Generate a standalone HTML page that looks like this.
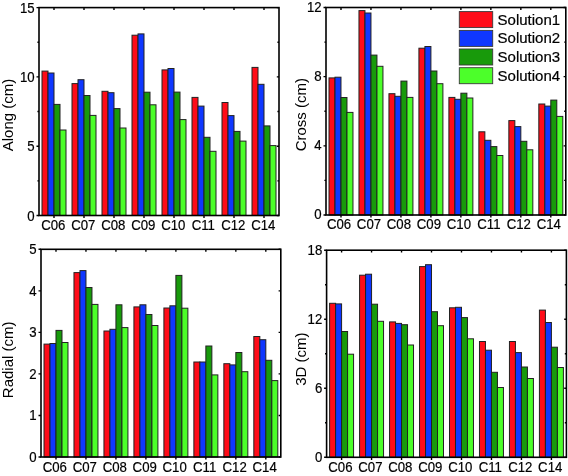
<!DOCTYPE html><html><head><meta charset="utf-8"><style>html,body{margin:0;padding:0;background:#fff;}svg{display:block;}text{font-family:"Liberation Sans",Arial,Helvetica,sans-serif;fill:#000;stroke:#000;stroke-width:0.2px;}</style></head><body>
<svg width="568" height="476" viewBox="0 0 568 476">
<rect x="0" y="0" width="568" height="476" fill="#fff"/>
<rect x="42" y="71.1" width="6" height="144.4" fill="#ff0c18" stroke="#222" stroke-width="1"/>
<rect x="48" y="73" width="6" height="142.5" fill="#0f37ff" stroke="#222" stroke-width="1"/>
<rect x="54" y="104.4" width="6" height="111.1" fill="#189a0b" stroke="#222" stroke-width="1"/>
<rect x="60" y="130" width="6" height="85.5" fill="#4cff2a" stroke="#222" stroke-width="1"/>
<rect x="72" y="83.6" width="6" height="131.9" fill="#ff0c18" stroke="#222" stroke-width="1"/>
<rect x="78" y="79.7" width="6" height="135.8" fill="#0f37ff" stroke="#222" stroke-width="1"/>
<rect x="84" y="95.5" width="6" height="120" fill="#189a0b" stroke="#222" stroke-width="1"/>
<rect x="90" y="115.4" width="6" height="100.1" fill="#4cff2a" stroke="#222" stroke-width="1"/>
<rect x="102" y="91.3" width="6" height="124.2" fill="#ff0c18" stroke="#222" stroke-width="1"/>
<rect x="108" y="92.7" width="6" height="122.8" fill="#0f37ff" stroke="#222" stroke-width="1"/>
<rect x="114" y="108.6" width="6" height="106.9" fill="#189a0b" stroke="#222" stroke-width="1"/>
<rect x="120" y="128" width="6" height="87.5" fill="#4cff2a" stroke="#222" stroke-width="1"/>
<rect x="132" y="35.2" width="6" height="180.3" fill="#ff0c18" stroke="#222" stroke-width="1"/>
<rect x="138" y="33.9" width="6" height="181.6" fill="#0f37ff" stroke="#222" stroke-width="1"/>
<rect x="144" y="92.2" width="6" height="123.3" fill="#189a0b" stroke="#222" stroke-width="1"/>
<rect x="150" y="104.8" width="6" height="110.7" fill="#4cff2a" stroke="#222" stroke-width="1"/>
<rect x="162" y="69.9" width="6" height="145.6" fill="#ff0c18" stroke="#222" stroke-width="1"/>
<rect x="168" y="68.5" width="6" height="147" fill="#0f37ff" stroke="#222" stroke-width="1"/>
<rect x="174" y="92.1" width="6" height="123.4" fill="#189a0b" stroke="#222" stroke-width="1"/>
<rect x="180" y="119.6" width="6" height="95.9" fill="#4cff2a" stroke="#222" stroke-width="1"/>
<rect x="192" y="97.4" width="6" height="118.1" fill="#ff0c18" stroke="#222" stroke-width="1"/>
<rect x="198" y="106.1" width="6" height="109.4" fill="#0f37ff" stroke="#222" stroke-width="1"/>
<rect x="204" y="137.3" width="6" height="78.2" fill="#189a0b" stroke="#222" stroke-width="1"/>
<rect x="210" y="151.3" width="6" height="64.2" fill="#4cff2a" stroke="#222" stroke-width="1"/>
<rect x="222" y="102.5" width="6" height="113" fill="#ff0c18" stroke="#222" stroke-width="1"/>
<rect x="228" y="115.6" width="6" height="99.9" fill="#0f37ff" stroke="#222" stroke-width="1"/>
<rect x="234" y="131.4" width="6" height="84.1" fill="#189a0b" stroke="#222" stroke-width="1"/>
<rect x="240" y="141.1" width="6" height="74.4" fill="#4cff2a" stroke="#222" stroke-width="1"/>
<rect x="252" y="67.4" width="6" height="148.1" fill="#ff0c18" stroke="#222" stroke-width="1"/>
<rect x="258" y="84.3" width="6" height="131.2" fill="#0f37ff" stroke="#222" stroke-width="1"/>
<rect x="264" y="125.9" width="6" height="89.6" fill="#189a0b" stroke="#222" stroke-width="1"/>
<rect x="270" y="145.6" width="6" height="69.9" fill="#4cff2a" stroke="#222" stroke-width="1"/>
<rect x="39" y="7.6" width="240" height="207.9" fill="none" stroke="#000" stroke-width="1.6"/>
<path d="M39 215.5h-2.5M279 215.5h-2.2M39 146.2h-2.5M279 146.2h-2.2M39 76.9h-2.5M279 76.9h-2.2M39 7.6h-2.5M279 7.6h-2.2M39 180.85h-1.6M279 180.85h-1.6M39 111.55h-1.6M279 111.55h-1.6M39 42.25h-1.6M279 42.25h-1.6M54 215.5v2.6M54 7.6v2.4M84 215.5v2.6M84 7.6v2.4M114 215.5v2.6M114 7.6v2.4M144 215.5v2.6M144 7.6v2.4M174 215.5v2.6M174 7.6v2.4M204 215.5v2.6M204 7.6v2.4M234 215.5v2.6M234 7.6v2.4M264 215.5v2.6M264 7.6v2.4" stroke="#000" stroke-width="1.4" fill="none"/>
<text transform="translate(34.7 220.5) scale(0.93 1)" font-size="14.2" text-anchor="end">0</text>
<text transform="translate(34.7 151.2) scale(0.93 1)" font-size="14.2" text-anchor="end">5</text>
<text transform="translate(34.7 81.9) scale(0.93 1)" font-size="14.2" text-anchor="end">10</text>
<text transform="translate(34.7 12.6) scale(0.93 1)" font-size="14.2" text-anchor="end">15</text>
<text transform="translate(53.3 229.9) scale(0.93 1)" font-size="14.2" text-anchor="middle">C06</text>
<text transform="translate(83.3 229.9) scale(0.93 1)" font-size="14.2" text-anchor="middle">C07</text>
<text transform="translate(113.3 229.9) scale(0.93 1)" font-size="14.2" text-anchor="middle">C08</text>
<text transform="translate(143.3 229.9) scale(0.93 1)" font-size="14.2" text-anchor="middle">C09</text>
<text transform="translate(173.3 229.9) scale(0.93 1)" font-size="14.2" text-anchor="middle">C10</text>
<text transform="translate(203.3 229.9) scale(0.93 1)" font-size="14.2" text-anchor="middle">C11</text>
<text transform="translate(233.3 229.9) scale(0.93 1)" font-size="14.2" text-anchor="middle">C12</text>
<text transform="translate(263.3 229.9) scale(0.93 1)" font-size="14.2" text-anchor="middle">C14</text>
<text transform="translate(12.8 115) rotate(-90)" font-size="15" text-anchor="middle" style="stroke-width:0">Along (cm)</text>
<rect x="329" y="77.9" width="5.99" height="137.1" fill="#ff0c18" stroke="#222" stroke-width="1"/>
<rect x="334.99" y="77.2" width="5.99" height="137.8" fill="#0f37ff" stroke="#222" stroke-width="1"/>
<rect x="340.99" y="97.5" width="5.99" height="117.5" fill="#189a0b" stroke="#222" stroke-width="1"/>
<rect x="346.98" y="112.4" width="5.99" height="102.6" fill="#4cff2a" stroke="#222" stroke-width="1"/>
<rect x="358.97" y="10.6" width="5.99" height="204.4" fill="#ff0c18" stroke="#222" stroke-width="1"/>
<rect x="364.97" y="13" width="5.99" height="202" fill="#0f37ff" stroke="#222" stroke-width="1"/>
<rect x="370.96" y="55.1" width="5.99" height="159.9" fill="#189a0b" stroke="#222" stroke-width="1"/>
<rect x="376.96" y="66.3" width="5.99" height="148.7" fill="#4cff2a" stroke="#222" stroke-width="1"/>
<rect x="388.95" y="93.7" width="5.99" height="121.3" fill="#ff0c18" stroke="#222" stroke-width="1"/>
<rect x="394.94" y="96.3" width="5.99" height="118.7" fill="#0f37ff" stroke="#222" stroke-width="1"/>
<rect x="400.94" y="81.1" width="5.99" height="133.9" fill="#189a0b" stroke="#222" stroke-width="1"/>
<rect x="406.93" y="97.4" width="5.99" height="117.6" fill="#4cff2a" stroke="#222" stroke-width="1"/>
<rect x="418.92" y="48.2" width="5.99" height="166.8" fill="#ff0c18" stroke="#222" stroke-width="1"/>
<rect x="424.92" y="46.5" width="5.99" height="168.5" fill="#0f37ff" stroke="#222" stroke-width="1"/>
<rect x="430.91" y="71" width="5.99" height="144" fill="#189a0b" stroke="#222" stroke-width="1"/>
<rect x="436.91" y="83.7" width="5.99" height="131.3" fill="#4cff2a" stroke="#222" stroke-width="1"/>
<rect x="448.9" y="97.4" width="5.99" height="117.6" fill="#ff0c18" stroke="#222" stroke-width="1"/>
<rect x="454.89" y="99.3" width="5.99" height="115.7" fill="#0f37ff" stroke="#222" stroke-width="1"/>
<rect x="460.89" y="93.2" width="5.99" height="121.8" fill="#189a0b" stroke="#222" stroke-width="1"/>
<rect x="466.88" y="98" width="5.99" height="117" fill="#4cff2a" stroke="#222" stroke-width="1"/>
<rect x="478.87" y="131.8" width="5.99" height="83.2" fill="#ff0c18" stroke="#222" stroke-width="1"/>
<rect x="484.87" y="140.3" width="5.99" height="74.7" fill="#0f37ff" stroke="#222" stroke-width="1"/>
<rect x="490.86" y="146.6" width="5.99" height="68.4" fill="#189a0b" stroke="#222" stroke-width="1"/>
<rect x="496.86" y="155.5" width="5.99" height="59.5" fill="#4cff2a" stroke="#222" stroke-width="1"/>
<rect x="508.85" y="120.6" width="5.99" height="94.4" fill="#ff0c18" stroke="#222" stroke-width="1"/>
<rect x="514.84" y="126.6" width="5.99" height="88.4" fill="#0f37ff" stroke="#222" stroke-width="1"/>
<rect x="520.84" y="141.3" width="5.99" height="73.7" fill="#189a0b" stroke="#222" stroke-width="1"/>
<rect x="526.83" y="149.8" width="5.99" height="65.2" fill="#4cff2a" stroke="#222" stroke-width="1"/>
<rect x="538.82" y="104" width="5.99" height="111" fill="#ff0c18" stroke="#222" stroke-width="1"/>
<rect x="544.82" y="106.1" width="5.99" height="108.9" fill="#0f37ff" stroke="#222" stroke-width="1"/>
<rect x="550.81" y="100.1" width="5.99" height="114.9" fill="#189a0b" stroke="#222" stroke-width="1"/>
<rect x="556.81" y="116.4" width="5.99" height="98.6" fill="#4cff2a" stroke="#222" stroke-width="1"/>
<rect x="326" y="7.5" width="239.8" height="207.5" fill="none" stroke="#000" stroke-width="1.6"/>
<path d="M326 215h-2.5M565.8 215h-2.2M326 145.83h-2.5M565.8 145.83h-2.2M326 76.67h-2.5M565.8 76.67h-2.2M326 7.5h-2.5M565.8 7.5h-2.2M326 180.42h-1.6M565.8 180.42h-1.6M326 111.25h-1.6M565.8 111.25h-1.6M326 42.08h-1.6M565.8 42.08h-1.6M340.99 215v2.6M340.99 7.5v2.4M370.96 215v2.6M370.96 7.5v2.4M400.94 215v2.6M400.94 7.5v2.4M430.91 215v2.6M430.91 7.5v2.4M460.89 215v2.6M460.89 7.5v2.4M490.86 215v2.6M490.86 7.5v2.4M520.84 215v2.6M520.84 7.5v2.4M550.81 215v2.6M550.81 7.5v2.4" stroke="#000" stroke-width="1.4" fill="none"/>
<text transform="translate(321.7 219.2) scale(0.93 1)" font-size="14.2" text-anchor="end">0</text>
<text transform="translate(321.7 150.03) scale(0.93 1)" font-size="14.2" text-anchor="end">4</text>
<text transform="translate(321.7 80.87) scale(0.93 1)" font-size="14.2" text-anchor="end">8</text>
<text transform="translate(321.7 11.7) scale(0.93 1)" font-size="14.2" text-anchor="end">12</text>
<text transform="translate(338.99 229.4) scale(0.93 1)" font-size="14.2" text-anchor="middle">C06</text>
<text transform="translate(368.96 229.4) scale(0.93 1)" font-size="14.2" text-anchor="middle">C07</text>
<text transform="translate(398.94 229.4) scale(0.93 1)" font-size="14.2" text-anchor="middle">C08</text>
<text transform="translate(428.91 229.4) scale(0.93 1)" font-size="14.2" text-anchor="middle">C09</text>
<text transform="translate(458.89 229.4) scale(0.93 1)" font-size="14.2" text-anchor="middle">C10</text>
<text transform="translate(488.86 229.4) scale(0.93 1)" font-size="14.2" text-anchor="middle">C11</text>
<text transform="translate(518.84 229.4) scale(0.93 1)" font-size="14.2" text-anchor="middle">C12</text>
<text transform="translate(548.81 229.4) scale(0.93 1)" font-size="14.2" text-anchor="middle">C14</text>
<text transform="translate(305.9 114.7) rotate(-90)" font-size="15" text-anchor="middle" style="stroke-width:0">Cross (cm)</text>
<rect x="44" y="344.1" width="6" height="112.9" fill="#ff0c18" stroke="#222" stroke-width="1"/>
<rect x="49.99" y="343.5" width="6" height="113.5" fill="#0f37ff" stroke="#222" stroke-width="1"/>
<rect x="55.99" y="330.4" width="6" height="126.6" fill="#189a0b" stroke="#222" stroke-width="1"/>
<rect x="61.98" y="342.5" width="6" height="114.5" fill="#4cff2a" stroke="#222" stroke-width="1"/>
<rect x="73.97" y="272.6" width="6" height="184.4" fill="#ff0c18" stroke="#222" stroke-width="1"/>
<rect x="79.97" y="270.6" width="6" height="186.4" fill="#0f37ff" stroke="#222" stroke-width="1"/>
<rect x="85.96" y="287.5" width="6" height="169.5" fill="#189a0b" stroke="#222" stroke-width="1"/>
<rect x="91.96" y="304.4" width="6" height="152.6" fill="#4cff2a" stroke="#222" stroke-width="1"/>
<rect x="103.95" y="331" width="6" height="126" fill="#ff0c18" stroke="#222" stroke-width="1"/>
<rect x="109.94" y="329.3" width="6" height="127.7" fill="#0f37ff" stroke="#222" stroke-width="1"/>
<rect x="115.94" y="304.8" width="6" height="152.2" fill="#189a0b" stroke="#222" stroke-width="1"/>
<rect x="121.93" y="327.6" width="6" height="129.4" fill="#4cff2a" stroke="#222" stroke-width="1"/>
<rect x="133.92" y="306.9" width="6" height="150.1" fill="#ff0c18" stroke="#222" stroke-width="1"/>
<rect x="139.92" y="304.8" width="6" height="152.2" fill="#0f37ff" stroke="#222" stroke-width="1"/>
<rect x="145.91" y="314.5" width="6" height="142.5" fill="#189a0b" stroke="#222" stroke-width="1"/>
<rect x="151.91" y="325.5" width="6" height="131.5" fill="#4cff2a" stroke="#222" stroke-width="1"/>
<rect x="163.9" y="308" width="6" height="149" fill="#ff0c18" stroke="#222" stroke-width="1"/>
<rect x="169.89" y="305.8" width="6" height="151.2" fill="#0f37ff" stroke="#222" stroke-width="1"/>
<rect x="175.89" y="275.4" width="6" height="181.6" fill="#189a0b" stroke="#222" stroke-width="1"/>
<rect x="181.88" y="308.2" width="6" height="148.8" fill="#4cff2a" stroke="#222" stroke-width="1"/>
<rect x="193.87" y="362" width="6" height="95" fill="#ff0c18" stroke="#222" stroke-width="1"/>
<rect x="199.87" y="362" width="6" height="95" fill="#0f37ff" stroke="#222" stroke-width="1"/>
<rect x="205.86" y="346" width="6" height="111" fill="#189a0b" stroke="#222" stroke-width="1"/>
<rect x="211.86" y="374.9" width="6" height="82.1" fill="#4cff2a" stroke="#222" stroke-width="1"/>
<rect x="223.85" y="363.7" width="6" height="93.3" fill="#ff0c18" stroke="#222" stroke-width="1"/>
<rect x="229.84" y="364.9" width="6" height="92.1" fill="#0f37ff" stroke="#222" stroke-width="1"/>
<rect x="235.84" y="352.5" width="6" height="104.5" fill="#189a0b" stroke="#222" stroke-width="1"/>
<rect x="241.83" y="371.7" width="6" height="85.3" fill="#4cff2a" stroke="#222" stroke-width="1"/>
<rect x="253.82" y="336.5" width="6" height="120.5" fill="#ff0c18" stroke="#222" stroke-width="1"/>
<rect x="259.82" y="339.7" width="6" height="117.3" fill="#0f37ff" stroke="#222" stroke-width="1"/>
<rect x="265.81" y="360.3" width="6" height="96.7" fill="#189a0b" stroke="#222" stroke-width="1"/>
<rect x="271.81" y="380.6" width="6" height="76.4" fill="#4cff2a" stroke="#222" stroke-width="1"/>
<rect x="41" y="249.3" width="239.8" height="207.7" fill="none" stroke="#000" stroke-width="1.6"/>
<path d="M41 457h-2.5M280.8 457h-2.2M41 415.46h-2.5M280.8 415.46h-2.2M41 373.92h-2.5M280.8 373.92h-2.2M41 332.38h-2.5M280.8 332.38h-2.2M41 290.84h-2.5M280.8 290.84h-2.2M41 249.3h-2.5M280.8 249.3h-2.2M55.99 457v2.6M55.99 249.3v2.4M85.96 457v2.6M85.96 249.3v2.4M115.94 457v2.6M115.94 249.3v2.4M145.91 457v2.6M145.91 249.3v2.4M175.89 457v2.6M175.89 249.3v2.4M205.86 457v2.6M205.86 249.3v2.4M235.84 457v2.6M235.84 249.3v2.4M265.81 457v2.6M265.81 249.3v2.4" stroke="#000" stroke-width="1.4" fill="none"/>
<text transform="translate(36.7 462) scale(0.93 1)" font-size="14.2" text-anchor="end">0</text>
<text transform="translate(36.7 420.46) scale(0.93 1)" font-size="14.2" text-anchor="end">1</text>
<text transform="translate(36.7 378.92) scale(0.93 1)" font-size="14.2" text-anchor="end">2</text>
<text transform="translate(36.7 337.38) scale(0.93 1)" font-size="14.2" text-anchor="end">3</text>
<text transform="translate(36.7 295.84) scale(0.93 1)" font-size="14.2" text-anchor="end">4</text>
<text transform="translate(36.7 254.3) scale(0.93 1)" font-size="14.2" text-anchor="end">5</text>
<text transform="translate(54.79 472) scale(0.93 1)" font-size="14.2" text-anchor="middle">C06</text>
<text transform="translate(84.76 472) scale(0.93 1)" font-size="14.2" text-anchor="middle">C07</text>
<text transform="translate(114.74 472) scale(0.93 1)" font-size="14.2" text-anchor="middle">C08</text>
<text transform="translate(144.71 472) scale(0.93 1)" font-size="14.2" text-anchor="middle">C09</text>
<text transform="translate(174.69 472) scale(0.93 1)" font-size="14.2" text-anchor="middle">C10</text>
<text transform="translate(204.66 472) scale(0.93 1)" font-size="14.2" text-anchor="middle">C11</text>
<text transform="translate(234.64 472) scale(0.93 1)" font-size="14.2" text-anchor="middle">C12</text>
<text transform="translate(264.61 472) scale(0.93 1)" font-size="14.2" text-anchor="middle">C14</text>
<text transform="translate(13.4 359.8) rotate(-90)" font-size="15" text-anchor="middle" style="stroke-width:0">Radial (cm)</text>
<rect x="329.6" y="303.3" width="5.99" height="154" fill="#ff0c18" stroke="#222" stroke-width="1"/>
<rect x="335.59" y="303.9" width="5.99" height="153.4" fill="#0f37ff" stroke="#222" stroke-width="1"/>
<rect x="341.59" y="331.5" width="5.99" height="125.8" fill="#189a0b" stroke="#222" stroke-width="1"/>
<rect x="347.58" y="354.2" width="5.99" height="103.1" fill="#4cff2a" stroke="#222" stroke-width="1"/>
<rect x="359.57" y="275.2" width="5.99" height="182.1" fill="#ff0c18" stroke="#222" stroke-width="1"/>
<rect x="365.57" y="274.2" width="5.99" height="183.1" fill="#0f37ff" stroke="#222" stroke-width="1"/>
<rect x="371.56" y="304.2" width="5.99" height="153.1" fill="#189a0b" stroke="#222" stroke-width="1"/>
<rect x="377.56" y="321.3" width="5.99" height="136" fill="#4cff2a" stroke="#222" stroke-width="1"/>
<rect x="389.55" y="321.9" width="5.99" height="135.4" fill="#ff0c18" stroke="#222" stroke-width="1"/>
<rect x="395.54" y="323.4" width="5.99" height="133.9" fill="#0f37ff" stroke="#222" stroke-width="1"/>
<rect x="401.54" y="324.7" width="5.99" height="132.6" fill="#189a0b" stroke="#222" stroke-width="1"/>
<rect x="407.53" y="345" width="5.99" height="112.3" fill="#4cff2a" stroke="#222" stroke-width="1"/>
<rect x="419.52" y="266.6" width="5.99" height="190.7" fill="#ff0c18" stroke="#222" stroke-width="1"/>
<rect x="425.52" y="264.7" width="5.99" height="192.6" fill="#0f37ff" stroke="#222" stroke-width="1"/>
<rect x="431.51" y="311.7" width="5.99" height="145.6" fill="#189a0b" stroke="#222" stroke-width="1"/>
<rect x="437.51" y="325.7" width="5.99" height="131.6" fill="#4cff2a" stroke="#222" stroke-width="1"/>
<rect x="449.5" y="307.8" width="5.99" height="149.5" fill="#ff0c18" stroke="#222" stroke-width="1"/>
<rect x="455.49" y="307.3" width="5.99" height="150" fill="#0f37ff" stroke="#222" stroke-width="1"/>
<rect x="461.49" y="317.6" width="5.99" height="139.7" fill="#189a0b" stroke="#222" stroke-width="1"/>
<rect x="467.48" y="338.8" width="5.99" height="118.5" fill="#4cff2a" stroke="#222" stroke-width="1"/>
<rect x="479.47" y="341.5" width="5.99" height="115.8" fill="#ff0c18" stroke="#222" stroke-width="1"/>
<rect x="485.47" y="350.2" width="5.99" height="107.1" fill="#0f37ff" stroke="#222" stroke-width="1"/>
<rect x="491.46" y="372.3" width="5.99" height="85" fill="#189a0b" stroke="#222" stroke-width="1"/>
<rect x="497.46" y="387.5" width="5.99" height="69.8" fill="#4cff2a" stroke="#222" stroke-width="1"/>
<rect x="509.45" y="341.5" width="5.99" height="115.8" fill="#ff0c18" stroke="#222" stroke-width="1"/>
<rect x="515.44" y="352.6" width="5.99" height="104.7" fill="#0f37ff" stroke="#222" stroke-width="1"/>
<rect x="521.44" y="367" width="5.99" height="90.3" fill="#189a0b" stroke="#222" stroke-width="1"/>
<rect x="527.43" y="378.5" width="5.99" height="78.8" fill="#4cff2a" stroke="#222" stroke-width="1"/>
<rect x="539.42" y="310.1" width="5.99" height="147.2" fill="#ff0c18" stroke="#222" stroke-width="1"/>
<rect x="545.42" y="322.5" width="5.99" height="134.8" fill="#0f37ff" stroke="#222" stroke-width="1"/>
<rect x="551.41" y="347.2" width="5.99" height="110.1" fill="#189a0b" stroke="#222" stroke-width="1"/>
<rect x="557.41" y="367.5" width="5.99" height="89.8" fill="#4cff2a" stroke="#222" stroke-width="1"/>
<rect x="326.6" y="250.2" width="239.8" height="207.1" fill="none" stroke="#000" stroke-width="1.6"/>
<path d="M326.6 457.3h-2.5M566.4 457.3h-2.2M326.6 388.27h-2.5M566.4 388.27h-2.2M326.6 319.23h-2.5M566.4 319.23h-2.2M326.6 250.2h-2.5M566.4 250.2h-2.2M326.6 422.78h-1.6M566.4 422.78h-1.6M326.6 353.75h-1.6M566.4 353.75h-1.6M326.6 284.72h-1.6M566.4 284.72h-1.6M341.59 457.3v2.6M341.59 250.2v2.4M371.56 457.3v2.6M371.56 250.2v2.4M401.54 457.3v2.6M401.54 250.2v2.4M431.51 457.3v2.6M431.51 250.2v2.4M461.49 457.3v2.6M461.49 250.2v2.4M491.46 457.3v2.6M491.46 250.2v2.4M521.44 457.3v2.6M521.44 250.2v2.4M551.41 457.3v2.6M551.41 250.2v2.4" stroke="#000" stroke-width="1.4" fill="none"/>
<text transform="translate(322.3 462.3) scale(0.93 1)" font-size="14.2" text-anchor="end">0</text>
<text transform="translate(322.3 393.27) scale(0.93 1)" font-size="14.2" text-anchor="end">6</text>
<text transform="translate(322.3 324.23) scale(0.93 1)" font-size="14.2" text-anchor="end">12</text>
<text transform="translate(322.3 255.2) scale(0.93 1)" font-size="14.2" text-anchor="end">18</text>
<text transform="translate(340.39 472.3) scale(0.93 1)" font-size="14.2" text-anchor="middle">C06</text>
<text transform="translate(370.36 472.3) scale(0.93 1)" font-size="14.2" text-anchor="middle">C07</text>
<text transform="translate(400.34 472.3) scale(0.93 1)" font-size="14.2" text-anchor="middle">C08</text>
<text transform="translate(430.31 472.3) scale(0.93 1)" font-size="14.2" text-anchor="middle">C09</text>
<text transform="translate(460.29 472.3) scale(0.93 1)" font-size="14.2" text-anchor="middle">C10</text>
<text transform="translate(490.26 472.3) scale(0.93 1)" font-size="14.2" text-anchor="middle">C11</text>
<text transform="translate(520.24 472.3) scale(0.93 1)" font-size="14.2" text-anchor="middle">C12</text>
<text transform="translate(550.21 472.3) scale(0.93 1)" font-size="14.2" text-anchor="middle">C14</text>
<text transform="translate(305.9 359.2) rotate(-90)" font-size="15" text-anchor="middle" style="stroke-width:0">3D (cm)</text>
<rect x="459.3" y="11.6" width="33.4" height="16" fill="#ff0c18" stroke="#383838" stroke-width="0.9"/>
<text x="497.6" y="24.5" font-size="15">Solution1</text>
<rect x="459.3" y="30.4" width="33.4" height="16" fill="#0f37ff" stroke="#383838" stroke-width="0.9"/>
<text x="497.6" y="43.3" font-size="15">Solution2</text>
<rect x="459.3" y="49" width="33.4" height="16" fill="#189a0b" stroke="#383838" stroke-width="0.9"/>
<text x="497.6" y="61.9" font-size="15">Solution3</text>
<rect x="459.3" y="67.7" width="33.4" height="16" fill="#4cff2a" stroke="#383838" stroke-width="0.9"/>
<text x="497.6" y="80.6" font-size="15">Solution4</text>
</svg></body></html>
